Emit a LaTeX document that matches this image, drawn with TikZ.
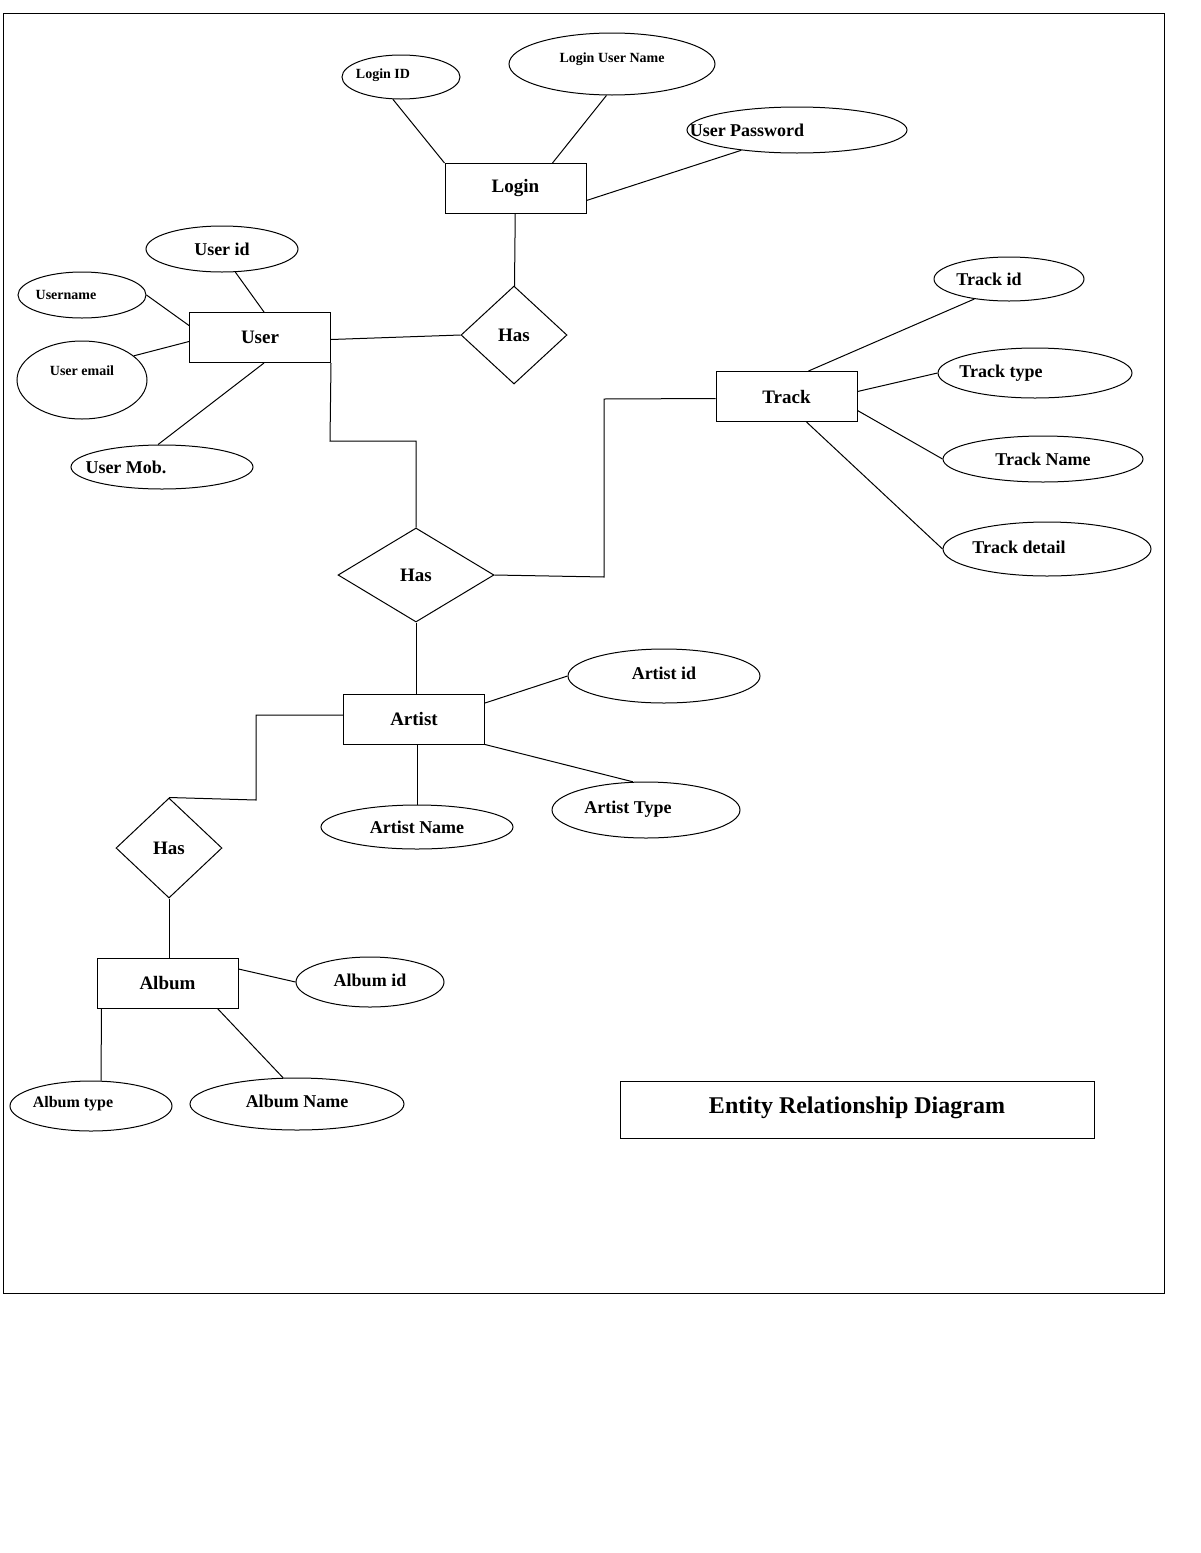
\documentclass[tikz,border=0pt]{standalone}
\usepackage{fontspec}
\setmainfont{Liberation Serif}
\usetikzlibrary{shapes.geometric}
\begin{document}
\begin{tikzpicture}[x=0.5pt,y=-0.5pt,
  ent/.style={draw,rectangle,minimum width=70.5pt,minimum height=25pt,inner sep=0pt,font=\bfseries\fontsize{9.5}{11}\selectfont},
  att/.style={draw,ellipse,inner sep=0pt,font=\bfseries\fontsize{9}{10}\selectfont},
  rel/.style={draw,diamond,inner sep=0pt,font=\bfseries\fontsize{9.5}{11}\selectfont},
  every path/.style={line width=0.5pt}]
\useasboundingbox (0,0) rectangle (1200,1553);
\draw (3,13) rectangle (1164,1293);
% Login
\node[ent] (login) at (515.5,188.5) {Login};
\node[att,minimum width=59pt,minimum height=22pt,font=\bfseries\fontsize{7}{8}\selectfont] (lid) at (401,77) {\hspace{-18pt}\raisebox{3pt}{Login ID}};
\node[att,minimum width=103pt,minimum height=31pt,font=\bfseries\fontsize{7}{8}\selectfont] (lun) at (612,64) {\raisebox{6pt}{Login User Name}};
\node[att,minimum width=110pt,minimum height=23pt] (upw) at (797,130) {\hspace{-50pt}User Password};
\draw (lid.-110) -- (login.north west);
\draw (lun.-100) -- ([xshift=-17pt]login.north east);
\draw (upw.-160) -- ([yshift=-6pt]login.east);
\node[rel,minimum width=53pt,minimum height=49pt] (has1) at (514,335) {Has};
\draw (login) -- (has1);
% User
\node[ent] (user) at (260,337.5) {User};
\node[att,minimum width=76pt,minimum height=23pt] (uid) at (222,249) {User id};
\node[att,minimum width=64pt,minimum height=23pt,font=\bfseries\fontsize{7}{8}\selectfont] (uname) at (82,295) {\hspace{-16pt}Username};
\node[att,minimum width=65pt,minimum height=39pt,font=\bfseries\fontsize{7}{8}\selectfont] (uemail) at (82,380) {\raisebox{9pt}{User email}};
\node[att,minimum width=91pt,minimum height=22pt] (umob) at (162,467) {\hspace{-36pt}User Mob.};
\draw (uid.-60) -- ([xshift=2pt]user.north);
\draw (uname.east) -- ([yshift=6pt]user.west);
\draw (uemail.25) -- ([yshift=-2pt]user.west);
\draw (umob.100) -- ([xshift=2pt]user.south);
\draw ([yshift=-1pt]user.east) -- (has1.west);
% Track
\node[ent] (track) at (786.5,396.5) {Track};
\node[att,minimum width=75pt,minimum height=22pt] (tid) at (1009,279) {\hspace{-20pt}Track id};
\node[att,minimum width=97pt,minimum height=25pt] (ttype) at (1035,373) {\hspace{-34pt}Track type};
\node[att,minimum width=100pt,minimum height=23pt] (tname) at (1043,459) {Track Name};
\node[att,minimum width=104pt,minimum height=27pt] (tdet) at (1047,549) {\hspace{-28pt}\raisebox{2pt}{Track detail}};
\draw ([xshift=11pt]track.north) -- (tid.-150);
\draw ([yshift=2.5pt]track.east) -- (ttype.west);
\draw ([yshift=-7pt]track.east) -- (tname.west);
\draw ([xshift=10pt]track.south) -- (tdet.west);
% Has2
\node[rel,minimum width=78pt,minimum height=47pt] (has2) at (416,575) {Has};
\coordinate (u1) at (330,441);
\coordinate (u2) at (416,441);
\draw (user.south east) -- (u1) -- (u2) -- (has2.north);
\coordinate (t1) at (604,577);
\coordinate (t2) at (604,399);
\draw (has2.east) -- (t1) -- (t2) -- ([yshift=-1pt]track.west);
% Artist
\node[ent] (artist) at (414,719) {Artist};
\node[att,minimum width=96pt,minimum height=27pt] (aid) at (664,676) {\raisebox{3pt}{Artist id}};
\node[att,minimum width=96pt,minimum height=22pt] (aname) at (417,827) {Artist Name};
\node[att,minimum width=94pt,minimum height=28pt] (atype) at (646,810) {\hspace{-18pt}\raisebox{3pt}{Artist Type}};
\draw (has2.south) -- (artist.north -| has2.south);
\draw ([yshift=8pt]artist.east) -- (aid.west);
\draw (artist.south east) -- (atype.115);
\draw (artist.south -| aname.north) -- (aname.north);
% Has3
\node[rel,minimum width=53pt,minimum height=50pt] (has3) at (169,848) {Has};
\coordinate (a1) at (256,715);
\coordinate (a2) at (256,800);
\draw ([yshift=2pt]artist.west) -- (a1) -- (a2) -- (has3.north);
% Album
\node[ent] (album) at (167.5,983) {Album};
\node[att,minimum width=74pt,minimum height=25pt] (alid) at (370,982) {\raisebox{2pt}{Album id}};
\node[att,minimum width=81pt,minimum height=25pt,font=\bfseries\fontsize{8}{9}\selectfont] (altype) at (91,1106) {\hspace{-18pt}\raisebox{4pt}{Album type}};
\node[att,minimum width=107pt,minimum height=26pt] (alname) at (297,1104) {\raisebox{3pt}{Album Name}};
\draw (has3.south) -- (album.north -| has3.south);
\draw ([yshift=7pt]album.east) -- (alid.west);
\draw ([xshift=-33pt]album.south) -- (altype.north -| 101,0);
\draw ([xshift=25pt]album.south) -- (alname.118);
% Title
\node[draw,minimum width=237pt,minimum height=28.5pt,inner sep=0pt,font=\bfseries\fontsize{12}{14}\selectfont] (title) at (857,1109.5) {\raisebox{4pt}{Entity Relationship Diagram}};
\end{tikzpicture}
\end{document}
